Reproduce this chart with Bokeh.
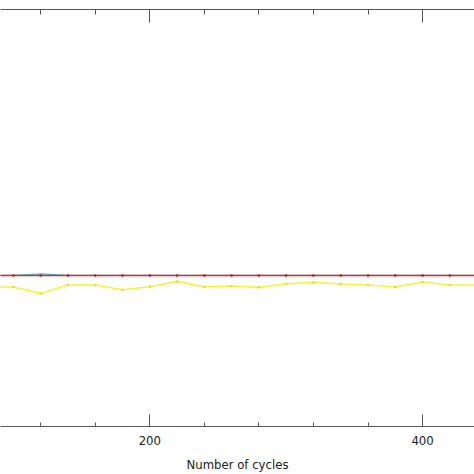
from bokeh.plotting import figure
from bokeh.models import Range1d, LinearAxis, FixedTicker
from bokeh.embed import file_html
from bokeh.resources import INLINE

# Data
cycles = [80, 100, 120, 140, 160, 180, 200, 220, 240, 260, 280, 300,
          320, 340, 360, 380, 400, 420, 440]
red_series = [36.24] * len(cycles)
cyan_series = [36.24, 36.24, 36.6, 36.24, 36.24, 36.24, 36.24, 36.24, 36.24, 36.24,
               36.24, 36.24, 36.24, 36.24, 36.24, 36.24, 36.24, 36.24, 36.24]
yellow_series = [33.45, 33.45, 31.92, 33.93, 33.93, 32.81, 33.53, 34.80, 33.45, 33.69,
                 33.36, 34.25, 34.56, 34.17, 33.93, 33.45, 34.65, 33.93, 33.93]
x_major = [0, 200, 400, 600]
x_minor = list(range(0, 601, 40))
x_label = "Number of cycles"

FONT = "DejaVu Sans Condensed, Liberation Sans, sans-serif"
AX = "#555555"

p = figure(width=474, height=474, output_backend="svg", toolbar_location=None,
           x_range=Range1d(90.5, 438.1), y_range=Range1d(0, 100),
           x_axis_type=None, y_axis_type=None,
           min_border_left=0, min_border_right=0, min_border_top=9,
           min_border_bottom=0)
p.outline_line_color = None
p.xgrid.visible = False
p.ygrid.visible = False
p.background_fill_color = "white"
p.border_fill_color = "white"

ticker = FixedTicker(ticks=x_major, minor_ticks=x_minor)

bottom = LinearAxis(ticker=ticker, axis_label=x_label)
bottom.axis_line_color = AX
bottom.major_tick_line_color = AX
bottom.minor_tick_line_color = AX
bottom.major_tick_in = 12
bottom.major_tick_out = 0
bottom.minor_tick_in = 4
bottom.minor_tick_out = 0
bottom.major_label_standoff = 9
bottom.major_label_text_font = FONT
bottom.major_label_text_font_size = "13px"
bottom.major_label_text_color = "#222222"
bottom.axis_label_text_font = FONT
bottom.axis_label_text_font_size = "13px"
bottom.axis_label_text_font_style = "normal"
bottom.axis_label_text_color = "#222222"
bottom.axis_label_standoff = 9
p.add_layout(bottom, "below")

top = LinearAxis(ticker=ticker)
top.axis_line_color = AX
top.major_tick_line_color = AX
top.minor_tick_line_color = AX
top.major_tick_in = 13
top.major_tick_out = 0
top.minor_tick_in = 5
top.minor_tick_out = 0
top.major_label_text_color = None
top.major_label_text_font_size = "1px"
top.major_label_standoff = 0
p.add_layout(top, "above")

p.line(cycles, cyan_series, line_color="#33ccdd", line_width=1.4)
p.line(cycles, red_series, line_color="#f02020", line_width=1.5)
p.scatter(cycles, red_series, marker="circle", size=2.5, fill_color="#b01818",
          line_color=None)
p.line(cycles, yellow_series, line_color="#f4f43a", line_width=1.6)
p.scatter(cycles, yellow_series, marker="circle", size=2.5, fill_color="#dede30",
          line_color=None)

open("out.html", "w").write(file_html(p, INLINE))
